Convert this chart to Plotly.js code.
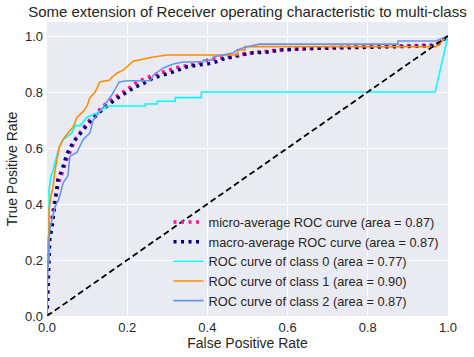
<!DOCTYPE html>
<html>
<head>
<meta charset="utf-8">
<script src="https://cdn.plot.ly/plotly-3.0.1.min.js"></script>
<style>html,body{margin:0;padding:0;background:#fff;}#chart{width:474px;height:357px;}</style>
</head>
<body>
<div id="chart"></div>
<script>
// Micro-average ROC
const fprMicro = [0, 0.005, 0.01, 0.02, 0.03, 0.05, 0.07, 0.1, 0.137, 0.152, 0.2, 0.224, 0.264, 0.287, 0.33, 0.374, 0.40, 0.45, 0.49, 0.53, 0.58, 0.65, 0.73, 0.88, 0.97, 1.0];
const tprMicro = [0, 0.25, 0.33, 0.42, 0.48, 0.56, 0.63, 0.69, 0.746, 0.764, 0.81, 0.835, 0.86, 0.871, 0.89, 0.90, 0.914, 0.925, 0.936, 0.943, 0.95, 0.955, 0.96, 0.965, 0.968, 1.0];
// Macro-average ROC
const fprMacro = [0, 0.002, 0.007, 0.012, 0.02, 0.027, 0.037, 0.05, 0.065, 0.077, 0.105, 0.137, 0.175, 0.2, 0.22, 0.24, 0.265, 0.307, 0.35, 0.374, 0.40, 0.42, 0.444, 0.465, 0.506, 0.556, 0.58, 0.65, 0.73, 0.88, 0.97, 1.0];
const tprMacro = [0, 0.1, 0.28, 0.31, 0.41, 0.486, 0.52, 0.58, 0.62, 0.64, 0.69, 0.736, 0.778, 0.80, 0.818, 0.83, 0.85, 0.868, 0.89, 0.896, 0.90, 0.907, 0.92, 0.925, 0.939, 0.943, 0.95, 0.955, 0.958, 0.962, 0.965, 1.0];
// Class 0
const fpr0 = [0, 0, 0.005, 0.005, 0.01, 0.015, 0.02, 0.03, 0.04, 0.05, 0.062, 0.07, 0.083, 0.1, 0.125, 0.15, 0.245, 0.245, 0.275, 0.275, 0.32, 0.32, 0.385, 0.385, 0.968, 1.0];
const tpr0 = [0, 0.25, 0.3, 0.45, 0.5, 0.52, 0.55, 0.6, 0.63, 0.64, 0.654, 0.68, 0.68, 0.71, 0.725, 0.75, 0.75, 0.757, 0.757, 0.767, 0.767, 0.78, 0.78, 0.80, 0.80, 1.0];
// Class 1
const fpr1 = [0, 0, 0.005, 0.005, 0.01, 0.015, 0.02, 0.03, 0.04, 0.05, 0.065, 0.075, 0.09, 0.1, 0.107, 0.12, 0.132, 0.157, 0.16, 0.175, 0.19, 0.2, 0.215, 0.265, 0.3, 0.476, 0.476, 0.494, 0.494, 0.97, 1.0];
const tpr1 = [0, 0.15, 0.2, 0.38, 0.43, 0.46, 0.52, 0.6, 0.63, 0.65, 0.675, 0.71, 0.73, 0.75, 0.78, 0.8, 0.836, 0.843, 0.85, 0.868, 0.878, 0.89, 0.91, 0.925, 0.932, 0.932, 0.95, 0.95, 0.962, 0.962, 1.0];
// Class 2
const fpr2 = [0, 0, 0.003, 0.007, 0.012, 0.02, 0.03, 0.04, 0.052, 0.057, 0.075, 0.09, 0.107, 0.115, 0.14, 0.162, 0.18, 0.2, 0.257, 0.265, 0.29, 0.315, 0.34, 0.39, 0.39, 0.41, 0.415, 0.465, 0.474, 0.494, 0.53, 0.875, 0.875, 0.97, 1.0];
const tpr2 = [0, 0.08, 0.2, 0.31, 0.34, 0.39, 0.42, 0.475, 0.50, 0.57, 0.585, 0.63, 0.654, 0.70, 0.746, 0.79, 0.836, 0.84, 0.84, 0.86, 0.886, 0.90, 0.907, 0.907, 0.914, 0.914, 0.925, 0.94, 0.95, 0.96, 0.971, 0.971, 0.982, 0.982, 1.0];
// Chance line
const chanceX = [0, 1];
const chanceY = [0, 1];
const seriesNames = [
  'micro-average ROC curve (area = 0.87)',
  'macro-average ROC curve (area = 0.87)',
  'ROC curve of class 0 (area = 0.77)',
  'ROC curve of class 1 (area = 0.90)',
  'ROC curve of class 2 (area = 0.87)'
];
const tickVals = [0, 0.2, 0.4, 0.6, 0.8, 1.0];
const tickText = ['0.0', '0.2', '0.4', '0.6', '0.8', '1.0'];

const FONT = 'Liberation Sans, Arial, sans-serif';
const traces = [
  {x: fprMicro, y: tprMicro, name: seriesNames[0], mode: 'lines', line: {color: '#FF1493', width: 3.5, dash: '3px,4.5px'}},
  {x: fprMacro, y: tprMacro, name: seriesNames[1], mode: 'lines', line: {color: '#000080', width: 3.5, dash: '3px,4.5px'}},
  {x: fpr0, y: tpr0, name: seriesNames[2], mode: 'lines', line: {color: '#00FFFF', width: 1.6}},
  {x: fpr1, y: tpr1, name: seriesNames[3], mode: 'lines', line: {color: '#FF8C00', width: 1.6}},
  {x: fpr2, y: tpr2, name: seriesNames[4], mode: 'lines', line: {color: '#6495ED', width: 1.6}},
  {x: chanceX, y: chanceY, mode: 'lines', showlegend: false, line: {color: '#000000', width: 1.8, dash: '6px,3.5px'}}
];

const layout = {
  width: 474, height: 357,
  margin: {l: 47, r: 26, t: 22, b: 41, pad: 0},
  paper_bgcolor: '#ffffff',
  plot_bgcolor: '#EAEAF2',
  font: {family: FONT, size: 13, color: '#262626'},
  title: {text: 'Some extension of Receiver operating characteristic to multi-class',
          font: {family: FONT, size: 15, color: '#262626'}, x: 0.522, xanchor: 'center', y: 0.967, yanchor: 'middle'},
  xaxis: {range: [0, 1], tickvals: tickVals, ticktext: tickText, showgrid: true, gridcolor: '#ffffff', gridwidth: 1,
          zeroline: false, showline: false, ticks: '', ticklen: 0, ticklabelstandoff: 2, tickfont: {size: 13, color: '#262626'},
          title: {text: 'False Positive Rate', font: {size: 14, color: '#262626'}, standoff: 2}, automargin: false},
  yaxis: {range: [0, 1.05], tickvals: tickVals, ticktext: tickText, showgrid: true, gridcolor: '#ffffff', gridwidth: 1,
          zeroline: false, showline: false, ticks: '', ticklen: 0, ticklabelstandoff: 3, tickfont: {size: 13, color: '#262626'},
          title: {text: 'True Positive Rate', font: {size: 14, color: '#262626'}, standoff: 4}, automargin: false},
  showlegend: true,
  legend: {x: 0.303, y: 0.37, xanchor: 'left', yanchor: 'top', bgcolor: 'rgba(0,0,0,0)', borderwidth: 0,
           font: {size: 12.8, color: '#262626'}, tracegroupgap: 0, itemwidth: 30}
};

Plotly.newPlot('chart', traces, layout, {displayModeBar: false, staticPlot: true});
</script>
</body>
</html>
